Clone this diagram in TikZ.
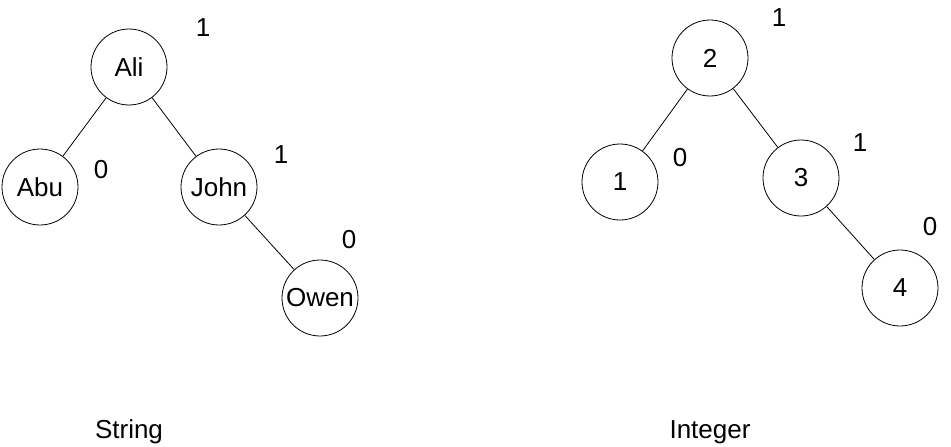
\documentclass[tikz,border=0pt]{standalone}
\usepackage{fontspec}
\setmainfont{Liberation Sans}
\begin{document}
\begin{tikzpicture}[x=1pt,y=-1pt,
  tn/.style={circle,draw,line width=0.8pt,minimum size=76pt,inner sep=0pt,font=\fontsize{26}{30}\selectfont},
  lb/.style={font=\fontsize{26}{30}\selectfont},
  ed/.style={line width=0.8pt}]
\useasboundingbox (0,0) rectangle (951,447);
\node[tn] (ali) at (129,67) {Ali};
\node[tn] (abu) at (40,187) {Abu};
\node[tn] (john) at (219,187) {John};
\node[tn] (owen) at (320,298) {Owen};
\draw[ed] (ali) -- (abu);
\draw[ed] (ali) -- (john);
\draw[ed] (john) -- (owen);
\node[lb] (l1) at (203,28) {1};
\node[lb] (l2) at (101,170) {0};
\node[lb] (l3) at (281,155) {1};
\node[lb] (l4) at (349,240) {0};
\node[tn] (n2) at (710,58) {2};
\node[tn] (n1) at (620,182) {1};
\node[tn] (n3) at (801,178) {3};
\node[tn] (n4) at (900,288) {4};
\draw[ed] (n2) -- (n1);
\draw[ed] (n2) -- (n3);
\draw[ed] (n3) -- (n4);
\node[lb] (r1) at (779,18) {1};
\node[lb] (r2) at (680,158) {0};
\node[lb] (r3) at (860,143) {1};
\node[lb] (r4) at (930,227) {0};
\node[lb] (s) at (129,432) {String};
\node[lb] (i) at (710,432) {Integer};
\end{tikzpicture}
\end{document}
